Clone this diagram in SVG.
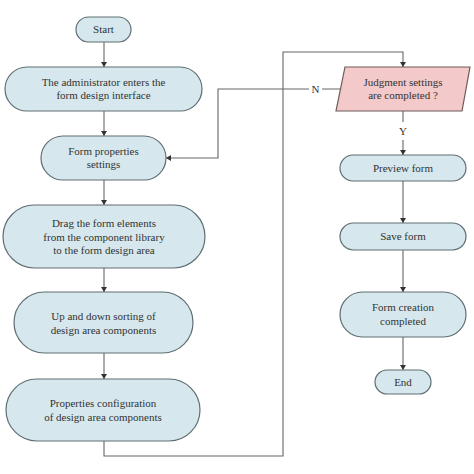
<svg xmlns="http://www.w3.org/2000/svg" width="474" height="474" viewBox="0 0 474 474">
<style>
.n{fill:#d6e8ed;stroke:#5e6e72;stroke-width:1.2}
.d{fill:#f3c9c9;stroke:#6e5a5a;stroke-width:1.2}
.t{font-family:"Liberation Serif","DejaVu Serif",serif;font-size:11px;fill:#333;text-anchor:middle}
.c{fill:none;stroke:#666;stroke-width:1.1}
</style>
<defs>
<marker id="a" markerWidth="6" markerHeight="6" refX="5" refY="3" orient="auto" markerUnits="userSpaceOnUse"><path d="M0,0 L5,3 L0,6 Z" fill="#333"/></marker>
</defs>
<rect width="474" height="474" fill="#fff"/>
<g id="connectors">
<path class="c" d="M104,42 V67" marker-end="url(#a)"/>
<path class="c" d="M104,111 V136" marker-end="url(#a)"/>
<path class="c" d="M104,180 V205" marker-end="url(#a)"/>
<path class="c" d="M104,268 V292" marker-end="url(#a)"/>
<path class="c" d="M104,353 V379" marker-end="url(#a)"/>
<path class="c" d="M104,441 V456 H283 V52 H403 V67" marker-end="url(#a)"/>
<path class="c" d="M340,89 H322 M309,89 H218 V158 H166" marker-end="url(#a)"/>
<path class="c" d="M403,111 V122 M403,140 V155" marker-end="url(#a)"/>
<path class="c" d="M403,181 V223" marker-end="url(#a)"/>
<path class="c" d="M403,250 V292" marker-end="url(#a)"/>
<path class="c" d="M403,337 V370" marker-end="url(#a)"/>
<text class="t" x="315.5" y="93">N</text>
<text class="t" x="403" y="135">Y</text>
</g>
<g id="start"><rect class="n" x="76" y="17" width="55" height="25" rx="12.5"/><text class="t" x="103.5" y="33">Start</text></g>
<g id="admin"><rect class="n" x="5" y="67" width="197" height="44" rx="22"/><text class="t" x="103.5" y="86">The administrator enters the</text><text class="t" x="103.5" y="99">form design interface</text></g>
<g id="formprops"><rect class="n" x="41" y="136" width="125" height="44" rx="22"/><text class="t" x="103.5" y="155">Form properties</text><text class="t" x="103.5" y="168">settings</text></g>
<g id="drag"><rect class="n" x="3" y="205" width="202" height="63" rx="31.5"/><text class="t" x="104" y="227">Drag the form elements</text><text class="t" x="104" y="240.5">from the component library</text><text class="t" x="104" y="254">to the form design area</text></g>
<g id="sort"><rect class="n" x="14" y="292" width="179" height="61" rx="30.5"/><text class="t" x="103.5" y="320">Up and down sorting of</text><text class="t" x="103.5" y="333.5">design area components</text></g>
<g id="config"><rect class="n" x="6" y="379" width="194" height="62" rx="31"/><text class="t" x="103" y="407">Properties configuration</text><text class="t" x="103" y="420.5">of design area components</text></g>
<g id="judge"><polygon class="d" points="345,67 470,67 462,111 336,111"/><text class="t" x="403" y="86">Judgment settings</text><text class="t" x="403" y="99">are completed ?</text></g>
<g id="preview"><rect class="n" x="340" y="155" width="126" height="26" rx="13"/><text class="t" x="403" y="172">Preview form</text></g>
<g id="save"><rect class="n" x="340" y="223" width="126" height="27" rx="13.5"/><text class="t" x="403" y="240">Save form</text></g>
<g id="done"><rect class="n" x="340" y="292" width="126" height="45" rx="22.5"/><text class="t" x="403" y="311">Form creation</text><text class="t" x="403" y="324.5">completed</text></g>
<g id="end"><rect class="n" x="375" y="370" width="56" height="24" rx="12"/><text class="t" x="403" y="386">End</text></g>
</svg>
